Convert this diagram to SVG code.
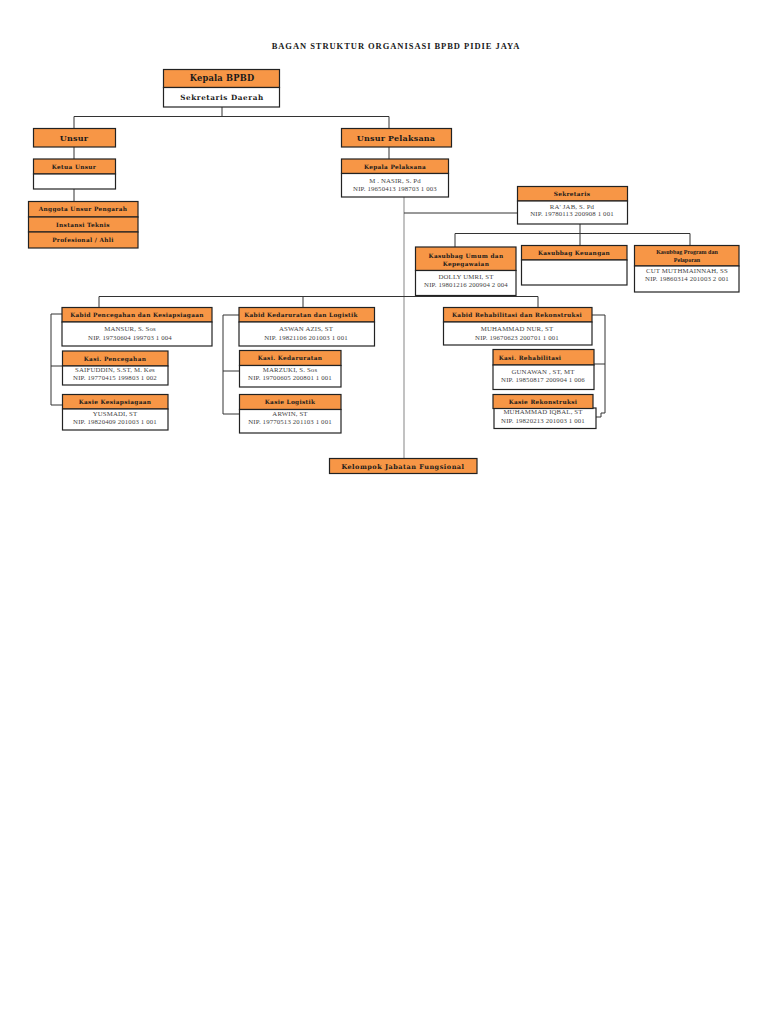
<svg xmlns="http://www.w3.org/2000/svg" width="768" height="1024" viewBox="0 0 768 1024">
<style>
.o{fill:#F79646;stroke:#222;stroke-width:1.2}
.w{fill:#fff;stroke:#222;stroke-width:1.2}
.h{font-family:"DejaVu Serif",serif;font-weight:bold;font-size:5.8px;letter-spacing:0.3px;fill:#1a1a1a;text-anchor:middle}
.p{font-family:"Liberation Serif",serif;font-weight:bold;font-size:6px;fill:#1a1a1a;text-anchor:middle}
.n{font-family:"Liberation Serif",serif;font-size:6.8px;letter-spacing:0.15px;fill:#444;text-anchor:middle}
.ln{fill:none;stroke:#333;stroke-width:1}
.lg{fill:none;stroke:#999;stroke-width:1.2}
.t{font-family:"Liberation Serif",serif;font-weight:bold;font-size:8.5px;letter-spacing:0.95px;fill:#1a1a1a;text-anchor:middle}
</style>
<rect width="768" height="1024" fill="#fff"/>
<text class="t" x="396" y="49">BAGAN STRUKTUR ORGANISASI BPBD PIDIE JAYA</text>

<g id="connectors">
<path class="ln" d="M222 107V116.5M74 116.5H389M74 116.5V128M389 116.5V128"/>
<path class="ln" d="M74 147V159M74 189V201"/>
<path class="ln" d="M389 147V159"/>
<path class="lg" d="M404 197V458"/>
<path class="ln" d="M404 213H517"/>
<path class="ln" d="M580 224V245M455 233.5H690M455 233.5V247M690 233.5V245"/>
<path class="ln" d="M99 296.5H538M99 296.5V307M303 296.5V307M538 296.5V307"/>
<path class="ln" d="M62 314H51V405H62M51 366H62"/>
<path class="ln" d="M239 315H223V414H239M223 371H239"/>
<path class="ln" d="M592 315H605V413H601V417H596M594 364H605"/>
</g>

<g id="kepala-bpbd">
<rect class="o" x="163.5" y="69.5" width="116" height="18"/>
<rect class="w" x="163.5" y="87.5" width="116" height="19.5"/>
<text class="h" x="222" y="81" style="font-size:8.3px;letter-spacing:0.2px">Kepala BPBD</text>
<text class="h" x="222" y="100" style="font-size:7.2px;letter-spacing:0.6px">Sekretaris Daerah</text>
</g>

<g id="unsur">
<rect class="o" x="33.5" y="128.5" width="82" height="18.5"/>
<text class="h" x="74" y="141" style="font-size:8px;letter-spacing:0.2px">Unsur</text>
</g>

<g id="ketua-unsur">
<rect class="o" x="33.5" y="159" width="82" height="15"/>
<rect class="w" x="33.5" y="174" width="82" height="15"/>
<text class="h" x="74" y="168.5">Ketua Unsur</text>
</g>

<g id="anggota">
<rect class="o" x="28.5" y="201.5" width="109.5" height="15.5"/>
<rect class="o" x="28.5" y="217" width="109.5" height="15"/>
<rect class="o" x="28.5" y="232" width="109.5" height="16"/>
<text class="h" x="83" y="211">Anggota Unsur Pengarah</text>
<text class="h" x="83" y="226.5">Instansi Teknis</text>
<text class="h" x="83" y="242">Profesional / Ahli</text>
</g>

<g id="unsur-pelaksana">
<rect class="o" x="341.5" y="128.5" width="110" height="18.5"/>
<text class="h" x="396" y="141" style="font-size:8px;letter-spacing:0.2px">Unsur Pelaksana</text>
</g>

<g id="kepala-pelaksana">
<rect class="o" x="341.5" y="159" width="107" height="14.5"/>
<rect class="w" x="341.5" y="173.5" width="107" height="23.5"/>
<text class="h" x="395" y="168.5">Kepala Pelaksana</text>
<text class="n" x="395" y="183">M . NASIR, S. Pd</text>
<text class="n" x="395" y="190.5">NIP. 19650413 198703 1 003</text>
</g>

<g id="sekretaris">
<rect class="o" x="517.5" y="186.5" width="110" height="14.5"/>
<rect class="w" x="517.5" y="201" width="110" height="23"/>
<text class="h" x="572" y="196">Sekretaris</text>
<text class="n" x="572" y="208.5">RA' JAB, S. Pd</text>
<text class="n" x="572" y="216">NIP. 19780113 200908 1 001</text>
</g>

<g id="kasubbag-umum">
<rect class="o" x="415.5" y="247" width="100.5" height="23.5"/>
<rect class="w" x="415.5" y="270.5" width="100.5" height="25"/>
<text class="h" x="466" y="257.5">Kasubbag Umum dan</text>
<text class="h" x="466" y="265.5">Kepegawaian</text>
<text class="n" x="466" y="279">DOLLY  UMRI,  ST</text>
<text class="n" x="466" y="287">NIP. 19801216 200904 2 004</text>
</g>

<g id="kasubbag-keuangan">
<rect class="o" x="521.5" y="245.5" width="105.5" height="14.5"/>
<rect class="w" x="521.5" y="260" width="105.5" height="25"/>
<text class="h" x="574" y="255">Kasubbag Keuangan</text>
</g>

<g id="kasubbag-program">
<rect class="o" x="634.5" y="245.5" width="104.5" height="20.5"/>
<rect class="w" x="634.5" y="266" width="104.5" height="26"/>
<text class="p" x="687" y="254">Kasubbag Program dan</text>
<text class="p" x="687" y="262">Pelaporan</text>
<text class="n" x="687" y="273">CUT MUTHMAINNAH, SS</text>
<text class="n" x="687" y="280.5">NIP. 19860314 201003 2 001</text>
</g>

<g id="kabid-pencegahan">
<rect class="o" x="62" y="307.5" width="150" height="14.5"/>
<rect class="w" x="62" y="322" width="150" height="24"/>
<text class="h" x="137" y="317">Kabid Pencegahan dan Kesiapsiagaan</text>
<text class="n" x="130" y="331">MANSUR, S. Sos</text>
<text class="n" x="130" y="339.5">NIP. 19730604 199703 1 004</text>
</g>

<g id="kasi-pencegahan">
<rect class="o" x="62.5" y="351" width="105.5" height="15"/>
<rect class="w" x="62.5" y="366" width="105.5" height="19"/>
<text class="h" x="115" y="360.5">Kasi. Pencegahan</text>
<text class="n" x="115" y="371.5">SAIFUDDIN, S.ST, M. Kes</text>
<text class="n" x="115" y="379.5">NIP. 19770415 199803 1 002</text>
</g>

<g id="kasie-kesiapsiagaan">
<rect class="o" x="62.5" y="394.5" width="105.5" height="14.5"/>
<rect class="w" x="62.5" y="409" width="105.5" height="21"/>
<text class="h" x="115" y="404">Kasie Kesiapsiagaan</text>
<text class="n" x="115" y="415.5">YUSMADI, ST</text>
<text class="n" x="115" y="424">NIP. 19820409 201003 1 001</text>
</g>

<g id="kabid-kedaruratan">
<rect class="o" x="239" y="307.5" width="135.5" height="14.5"/>
<rect class="w" x="239" y="322" width="135.5" height="24"/>
<text class="h" x="301" y="317">Kabid Kedaruratan dan Logistik</text>
<text class="n" x="306" y="331">ASWAN AZIS,  ST</text>
<text class="n" x="306" y="339.5">NIP. 19821106 201003 1 001</text>
</g>

<g id="kasi-kedaruratan">
<rect class="o" x="239.5" y="350.5" width="101.5" height="15"/>
<rect class="w" x="239.5" y="365.5" width="101.5" height="21.5"/>
<text class="h" x="290" y="360">Kasi. Kedaruratan</text>
<text class="n" x="290" y="371.5">MARZUKI, S. Sos</text>
<text class="n" x="290" y="379.5">NIP. 19700605 200801 1 001</text>
</g>

<g id="kasie-logistik">
<rect class="o" x="239.5" y="394.5" width="101.5" height="15"/>
<rect class="w" x="239.5" y="409.5" width="101.5" height="23.5"/>
<text class="h" x="290" y="404">Kasie Logistik</text>
<text class="n" x="290" y="415.5">ARWIN, ST</text>
<text class="n" x="290" y="424">NIP. 19770513 201103 1 001</text>
</g>

<g id="kabid-rehabilitasi">
<rect class="o" x="443.5" y="307.5" width="148.5" height="14.5"/>
<rect class="w" x="443.5" y="322" width="148.5" height="23"/>
<text class="h" x="517" y="317">Kabid Rehabilitasi dan Rekonstruksi</text>
<text class="n" x="517" y="331">MUHAMMAD NUR, ST</text>
<text class="n" x="517" y="339.5">NIP. 19670623 200701 1 001</text>
</g>

<g id="kasi-rehabilitasi">
<rect class="o" x="493" y="349.5" width="101" height="15.5"/>
<rect class="w" x="493" y="365" width="101" height="24.5"/>
<text class="h" x="530" y="359.5">Kasi. Rehabilitasi</text>
<text class="n" x="543" y="374">GUNAWAN ,  ST,  MT</text>
<text class="n" x="543" y="381.5">NIP. 19850817 200904 1 006</text>
</g>

<g id="kasie-rekonstruksi">
<rect class="w" x="494" y="408" width="102" height="20.5"/>
<rect class="o" x="493" y="394.5" width="100" height="14"/>
<text class="h" x="543" y="403.5">Kasie Rekonstruksi</text>
<text class="n" x="543" y="413.5">MUHAMMAD IQBAL, ST</text>
<text class="n" x="543" y="422.5">NIP. 19820213 201003 1 001</text>
</g>

<g id="kelompok-jabatan-fungsional">
<rect class="o" x="329.5" y="458.5" width="147.5" height="15"/>
<text class="h" x="403" y="468.5" style="font-size:6.5px;letter-spacing:0.5px">Kelompok Jabatan Fungsional</text>
</g>
</svg>
